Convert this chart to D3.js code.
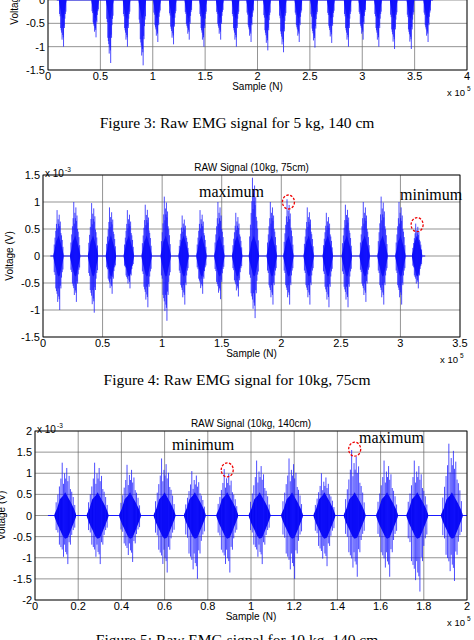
<!DOCTYPE html>
<html><head><meta charset="utf-8">
<script src="https://cdn.jsdelivr.net/npm/d3@7/dist/d3.min.js"></script>
<style>body{margin:0;background:#fff}svg{display:block}</style>
</head><body>
<svg id="c" width="474" height="640"></svg>
<script>
// ---- data (x in units of 1e5 samples, y in units of 1e-3 V) ----
const p1Centers = [0.14,0.45,0.59,0.75,0.90,1.04,1.19,1.34,1.48,1.64,1.79,1.93,2.09,2.24,2.39,2.54,2.70,2.86,3.00,3.15,3.30,3.46,3.62];
const p1Max = [1.0,0.9,1.1,1.0,1.2,0.9,0.95,0.9,1.0,0.9,0.9,0.9,1.0,1.1,0.9,1.0,0.9,1.0,0.9,1.0,1.0,0.9,0.9];
const p1Min = [-1.0,-0.8,-1.35,-1.0,-1.4,-0.9,-0.95,-0.85,-1.0,-0.85,-1.0,-0.9,-1.08,-1.12,-0.9,-1.02,-0.92,-1.0,-0.85,-1.0,-1.05,-1.05,-0.9];
const p2Centers = [0.13,0.27,0.42,0.57,0.72,0.87,1.03,1.18,1.33,1.48,1.63,1.77,1.92,2.06,2.23,2.39,2.55,2.70,2.85,3.00,3.14];
const p2Max = [0.85,1.0,0.98,0.9,0.85,0.95,1.1,0.75,0.85,1.0,0.8,1.45,1.0,1.05,0.9,0.8,0.95,1.0,1.1,1.0,0.6];
const p2Min = [-1.0,-0.85,-1.05,-0.7,-0.6,-0.95,-1.2,-0.9,-0.7,-0.8,-0.75,-1.15,-0.9,-0.9,-0.9,-0.95,-0.95,-0.85,-0.9,-0.9,-0.6];
const p3Centers = [0.14,0.29,0.44,0.60,0.74,0.89,1.04,1.19,1.34,1.48,1.63,1.77,1.93];
const p3Max = [1.25,1.25,1.2,1.35,1.05,1.1,1.3,1.35,1.0,1.55,1.3,1.3,1.7];
const p3Min = [-1.15,-1.15,-1.1,-1.35,-1.5,-1.35,-1.15,-1.5,-1.2,-1.45,-1.45,-1.8,-1.55];
const p1XTicks = [0,0.5,1,1.5,2,2.5,3,3.5,4];
const p2XTicks = [0,0.5,1,1.5,2,2.5,3,3.5];
const p3XTicks = [0,0.2,0.4,0.6,0.8,1,1.2,1.4,1.6,1.8,2];
const p1YTicks = [-1.5,-1,-0.5,0,0.5,1,1.5];
const p2YTicks = [-1.5,-1,-0.5,0,0.5,1,1.5];
const p3YTicks = [-2,-1.5,-1,-0.5,0,0.5,1,1.5,2];
const captions = ["Figure 3: Raw EMG signal for 5 kg, 140 cm","Figure 4: Raw EMG signal for 10kg, 75cm","Figure 5: Raw EMG signal for 10 kg, 140 cm"];
// burst spike template: [offset as fraction of burst width, fraction of max, fraction of min]
const spikeOffsets = [-0.42,-0.34,-0.27,-0.2,-0.14,-0.08,-0.03,0.02,0.07,0.12,0.18,0.24,0.3,0.37,0.44];
const spikeUp =      [0.25,0.4,0.55,0.7,1.0,0.6,0.8,0.7,0.9,0.65,0.75,0.5,0.45,0.35,0.2];
const spikeDown =    [0.3,0.35,0.6,0.65,0.7,0.85,0.6,0.75,0.8,1.0,0.55,0.6,0.4,0.3,0.25];

const svg = d3.select("#c");
const fmt = v => (Math.round(v*10)/10).toString();
let cid=0;
function panel(o){
  const x = d3.scaleLinear().domain(o.xd).range([o.l,o.r]);
  const y = d3.scaleLinear().domain(o.yd).range([o.b,o.t]);
  const g = svg.append("g");
  const id="clip"+(cid++);
  svg.append("clipPath").attr("id",id).append("rect").attr("x",o.l).attr("y",o.t).attr("width",o.r-o.l).attr("height",o.b-o.t);
  g.selectAll(".gx").data(o.xt).join("line").attr("x1",d=>x(d)).attr("x2",d=>x(d)).attr("y1",o.t).attr("y2",o.b).attr("stroke","#666").attr("stroke-width",0.7);
  g.selectAll(".gy").data(o.yt).join("line").attr("y1",d=>y(d)).attr("y2",d=>y(d)).attr("x1",o.l).attr("x2",o.r).attr("stroke","#666").attr("stroke-width",0.7);
  const s = g.append("g").attr("clip-path",`url(#${id})`);
  s.append("line").attr("x1",x(o.c[0]-o.w*0.8)).attr("x2",x(o.c[o.c.length-1]+o.w*0.8)).attr("y1",y(0)).attr("y2",y(0)).attr("stroke","#1a1aff").attr("stroke-width",1.2);
  const area = d3.area().x(d=>x(d[0])).y0(d=>y(d[1])).y1(d=>y(d[2]));
  o.c.forEach((c,i)=>{
    const w=o.w, k=o.core;
    const pts=[[c-w/2,-0.03,0.03],[c-w*0.38,-k*0.35,k*0.3],[c-w*0.25,-k*0.6,k*0.7],[c-w*0.1,-k*0.9,k*0.85],[c,-k,k],[c+w*0.12,-k*0.95,k*0.8],[c+w*0.27,-k*0.6,k*0.55],[c+w*0.4,-k*0.3,k*0.3],[c+w/2,-0.03,0.03]];
    s.append("path").attr("d",area(pts)).attr("fill","#0000ee");
    spikeOffsets.forEach((f,j)=>{
      const xx=x(c+f*w);
      s.append("line").attr("x1",xx).attr("x2",xx).attr("y1",y(o.mx[i]*spikeUp[j])).attr("y2",y(o.mn[i]*spikeDown[j]))
        .attr("stroke","#1515ff").attr("stroke-opacity",0.85).attr("stroke-width",0.9);
    });
  });
  g.append("rect").attr("x",o.l).attr("y",o.t).attr("width",o.r-o.l).attr("height",o.b-o.t).attr("fill","none").attr("stroke","#000").attr("stroke-width",0.8);
  const tf="Liberation Sans, Arial, sans-serif";
  g.selectAll(".tx").data(o.xt).join("text").attr("x",d=>x(d)).attr("y",o.b+10).attr("text-anchor","middle").attr("font-family",tf).attr("font-size",11).text(fmt);
  g.selectAll(".ty").data(o.yt).join("text").attr("x",o.l-3).attr("y",d=>y(d)+4).attr("text-anchor","end").attr("font-family",tf).attr("font-size",11).text(fmt);
  g.append("text").attr("x",(o.l+o.r)/2).attr("y",o.b+20).attr("text-anchor","middle").attr("font-family",tf).attr("font-size",10).text("Sample (N)");
  g.append("text").attr("x",o.r-2).attr("y",o.b+26).attr("text-anchor","end").attr("font-family",tf).attr("font-size",9.5).text("x 10");
  g.append("text").attr("x",o.r).attr("y",o.b+21).attr("font-family",tf).attr("font-size",6.5).text("5");
  g.append("text").attr("transform",`translate(${o.l-30},${(o.t+o.b)/2}) rotate(-90)`).attr("text-anchor","middle").attr("font-family",tf).attr("font-size",10).text("Voltage (V)");
  if(o.title){
    g.append("text").attr("x",(o.l+o.r)/2).attr("y",o.t-4).attr("text-anchor","middle").attr("font-family",tf).attr("font-size",10).text(o.title);
    g.append("text").attr("x",o.l+2).attr("y",o.t+2).attr("font-family",tf).attr("font-size",10).text("x 10");
    g.append("text").attr("x",o.l+22).attr("y",o.t-3).attr("font-family",tf).attr("font-size",6.5).text("-3");
  }
  (o.ann||[]).forEach(a=>{
    g.append("text").attr("x",a.tx).attr("y",a.ty).attr("font-family","Liberation Serif, Times New Roman, serif").attr("font-size",16).text(a.label);
    g.append("ellipse").attr("cx",x(a.x)).attr("cy",y(a.y)).attr("rx",6).attr("ry",7).attr("fill","none").attr("stroke","#e00").attr("stroke-width",1.3).attr("stroke-dasharray","2.5,1.5");
  });
  g.append("text").attr("x",237).attr("y",o.cap).attr("text-anchor","middle").attr("font-family","Liberation Serif, Times New Roman, serif").attr("font-size",15.5).text(o.caption);
}

panel({l:48,r:467,t:-70,b:70,xd:[0,4],yd:[-1.5,1.5],xt:p1XTicks,yt:p1YTicks,c:p1Centers,mx:p1Max,mn:p1Min,w:0.07,core:0.4,cap:128,caption:captions[0]});
panel({l:43,r:460,t:175,b:337,xd:[0,3.5],yd:[-1.5,1.5],xt:p2XTicks,yt:p2YTicks,c:p2Centers,mx:p2Max,mn:p2Min,w:0.085,core:0.38,cap:385,caption:captions[1],title:"RAW Signal (10kg, 75cm)",
  ann:[{label:"maximum",tx:199,ty:197,x:2.06,y:1.0},{label:"minimum",tx:400,ty:200,x:3.14,y:0.58}]});
panel({l:35,r:467,t:431,b:600,xd:[0,2],yd:[-2,2],xt:p3XTicks,yt:p3YTicks,c:p3Centers,mx:p3Max,mn:p3Min,w:0.1,core:0.55,cap:645,caption:captions[2],title:"RAW Signal (10kg, 140cm)",
  ann:[{label:"minimum",tx:172,ty:450,x:0.89,y:1.08},{label:"maximum",tx:359,ty:443,x:1.48,y:1.57}]});
</script>
</body></html>
